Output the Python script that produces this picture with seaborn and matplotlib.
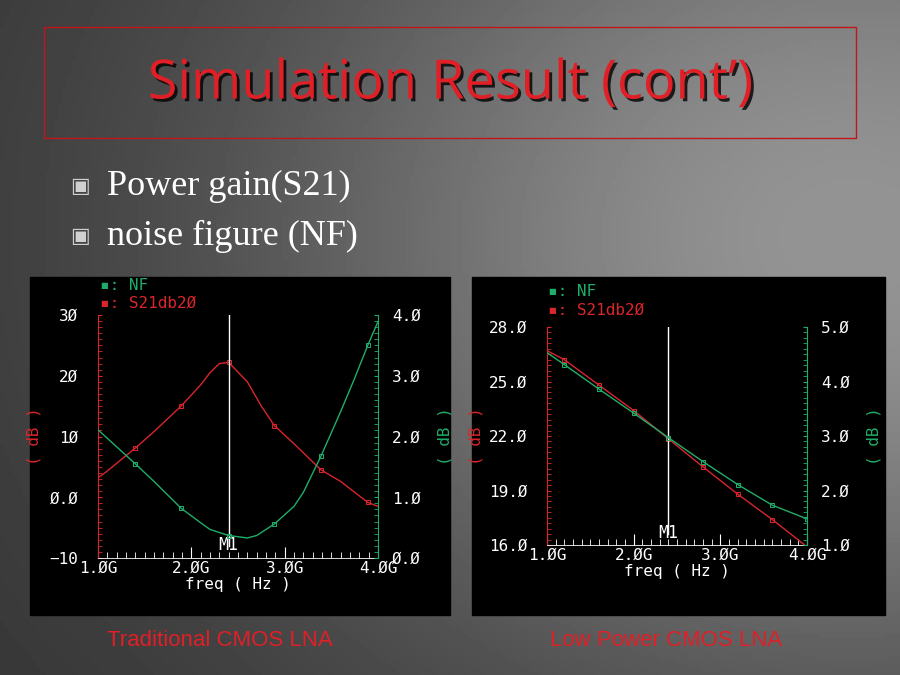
import numpy as np
import pandas as pd
import matplotlib
matplotlib.use("Agg")
import matplotlib.pyplot as plt
import seaborn as sns
from matplotlib.patches import Rectangle
import matplotlib.patheffects as pe

# traditional CMOS LNA
trad_freq_s21 = [1.0, 1.09, 1.4, 1.6, 1.89, 2.1, 2.2, 2.30, 2.4, 2.6, 2.75, 2.89, 3.1, 3.39, 3.6, 3.89, 4.0]
trad_s21 = [3.2, 4.2, 8.1, 10.8, 15.0, 18.5, 20.5, 22.0, 22.2, 19.0, 15.0, 11.8, 8.8, 4.5, 2.6, -0.85, -1.5]
trad_freq_nf = [1.0, 1.4, 1.6, 1.89, 2.1, 2.2, 2.4, 2.6, 2.7, 2.89, 3.1, 3.2, 3.39, 3.6, 3.75, 3.89, 4.0]
trad_nf = [2.11, 1.55, 1.26, 0.82, 0.58, 0.47, 0.37, 0.33, 0.37, 0.56, 0.85, 1.08, 1.68, 2.41, 2.96, 3.5, 3.89]
trad_s21_marks = [2, 4, 8, 11, 13, 15]
trad_nf_marks = [1, 3, 6, 9, 12, 15]

# low power CMOS LNA
lp_freq = [1.0, 1.2, 1.6, 2.0, 2.4, 2.8, 3.2, 3.6, 4.0]
lp_s21 = [26.7, 26.2, 24.8, 23.4, 21.85, 20.3, 18.8, 17.4, 15.9]
lp_nf = [4.53, 4.31, 3.86, 3.42, 2.97, 2.53, 2.11, 1.73, 1.48]
lp_marks = [1, 2, 3, 4, 5, 6, 7, 8]

RED = "#d8262b"
GREEN = "#1fae6a"
W, H = 900, 675
MONO = "DejaVu Sans Mono"

fig = plt.figure(figsize=(9, 6.75), dpi=100)

# slide background
bg = fig.add_axes([0, 0, 1, 1])
yy, xx = np.mgrid[0:1:200j, 0:1:200j]
grad = 0.20 + 0.38 * np.exp(-((xx - 0.95) ** 2 / 0.45 + (yy - 0.35) ** 2 / 0.5))
bg.imshow(grad, cmap="gray", vmin=0, vmax=1, extent=[0, W, H, 0], aspect="auto")
bg.set_xlim(0, W)
bg.set_ylim(H, 0)
bg.axis("off")
bg.add_patch(Rectangle((44, 27), 812, 111, fill=False, ec="#c0161c", lw=1))
bg.text(450, 84, "Simulation Result (cont\u2019)", color="#e01f26", fontsize=39,
        family="Open Sans", ha="center", va="center",
        path_effects=[pe.withSimplePatchShadow(offset=(2, -2), shadow_rgbFace="black", alpha=0.8)])
for y, s in [(186, "Power gain(S21)"), (236, "noise figure (NF)")]:
    bg.text(80, y, "\u25a3", color="#d0d0d0", fontsize=15, ha="center", va="center", family="DejaVu Sans")
    bg.text(107, y, s, color="white", fontsize=26, family="Liberation Serif", va="center")
bg.text(220, 641, "Traditional CMOS LNA", color="#e01f26", fontsize=16, family="Liberation Sans", ha="center", va="center")
bg.text(666, 641, "Low Power CMOS LNA", color="#e01f26", fontsize=16, family="Liberation Sans", ha="center", va="center")
bg.add_patch(Rectangle((30, 277), 420, 338, color="black"))
bg.add_patch(Rectangle((472, 277), 413, 338, color="black"))


def panel(rect, fs21, s21, fnf, nf, mk_s, mk_n, lticks, llabels, rticks, rlabels, lylim, rylim,
          leg_xy, lpad):
    x0, y0, x1, y1 = rect
    ax = fig.add_axes([x0 / W, 1 - y1 / H, (x1 - x0) / W, (y1 - y0) / H])
    ax.set_facecolor("none")
    ax2 = ax.twinx()
    sns.lineplot(x=fs21, y=s21, ax=ax, color=RED, lw=1, marker="s", markersize=3.5, markevery=mk_s,
                 markerfacecolor="none", markeredgecolor=RED, sort=False)
    sns.lineplot(x=fnf, y=nf, ax=ax2, color=GREEN, lw=1, marker="s", markersize=3.5, markevery=mk_n,
                 markerfacecolor="none", markeredgecolor=GREEN, sort=False)
    ax.set_xlim(1, 4)
    ax.set_ylim(*lylim)
    ax2.set_ylim(*rylim)
    ax.axvline(2.4, color="white", lw=1, ymin=0.05)
    ax.text(2.4, lylim[0] + 0.015 * (lylim[1] - lylim[0]), "M1", color="white", ha="center",
            va="bottom", fontsize=12, family=MONO)
    for a in (ax, ax2):
        for s in a.spines.values():
            s.set_visible(False)
    ax.spines["left"].set_visible(True)
    ax.spines["left"].set_color(RED)
    ax2.spines["right"].set_visible(True)
    ax2.spines["right"].set_color(GREEN)
    ax.spines["bottom"].set_visible(True)
    ax.spines["bottom"].set_color("white")
    ax.spines["bottom"].set_linewidth(0.6)
    ax.set_xticks([1, 2, 3, 4])
    ax.set_xticklabels(["1.ØG", "2.ØG", "3.ØG", "4.ØG"])
    ax.set_xticks(np.arange(1, 4.01, 0.1), minor=True)
    ax.set_yticks(lticks)
    ax.set_yticklabels(llabels)
    ax.set_yticks(np.linspace(lylim[0], lylim[1], 41), minor=True)
    ax2.set_yticks(rticks)
    ax2.set_yticklabels(rlabels)
    ax2.set_yticks(np.linspace(rylim[0], rylim[1], 41), minor=True)
    ax.tick_params(axis="x", which="both", direction="in", colors="white", labelsize=11.5,
                   length=4, pad=2)
    ax.tick_params(axis="x", which="major", length=8)
    ax.tick_params(axis="y", which="both", direction="in", color=RED, labelcolor="white",
                   labelsize=11.5, length=3, pad=14)
    ax2.tick_params(axis="y", which="both", direction="in", color=GREEN, labelcolor="white",
                    labelsize=11.5, length=3, pad=10)
    for t in ax.get_xticklabels() + ax.get_yticklabels() + ax2.get_yticklabels():
        t.set_family(MONO)
    ax.set_xlabel("freq ( Hz )", color="white", fontsize=11.5, family=MONO, labelpad=1)
    ax.set_ylabel("( dB )", color=RED, fontsize=11.5, family=MONO, labelpad=lpad)
    ax2.set_ylabel("( dB )", color=GREEN, fontsize=11.5, family=MONO, labelpad=12, rotation=90)
    lx, ly = leg_xy
    bg.text(lx, ly, "\u25aa: NF", color=GREEN, fontsize=11.5, family=MONO, va="center")
    bg.text(lx, ly + 18, "\u25aa: S21db2Ø", color=RED, fontsize=11.5, family=MONO, va="center")


panel((98, 315, 378, 558), trad_freq_s21, trad_s21, trad_freq_nf, trad_nf,
      trad_s21_marks, trad_nf_marks,
      [-10, 0, 10, 20, 30], ["\u221210", "Ø.Ø", "1Ø", "2Ø", "3Ø"],
      [0, 1, 2, 3, 4], ["Ø.Ø", "1.Ø", "2.Ø", "3.Ø", "4.Ø"],
      (-10, 30), (0, 4), (100, 285), 6)
panel((547, 327, 807, 545), lp_freq, lp_s21, lp_freq, lp_nf, lp_marks, lp_marks,
      [16, 19, 22, 25, 28], ["16.Ø", "19.Ø", "22.Ø", "25.Ø", "28.Ø"],
      [1, 2, 3, 4, 5], ["1.Ø", "2.Ø", "3.Ø", "4.Ø", "5.Ø"],
      (16, 28), (1, 5), (548, 292), 4)

fig.savefig("out.png", dpi=100)
